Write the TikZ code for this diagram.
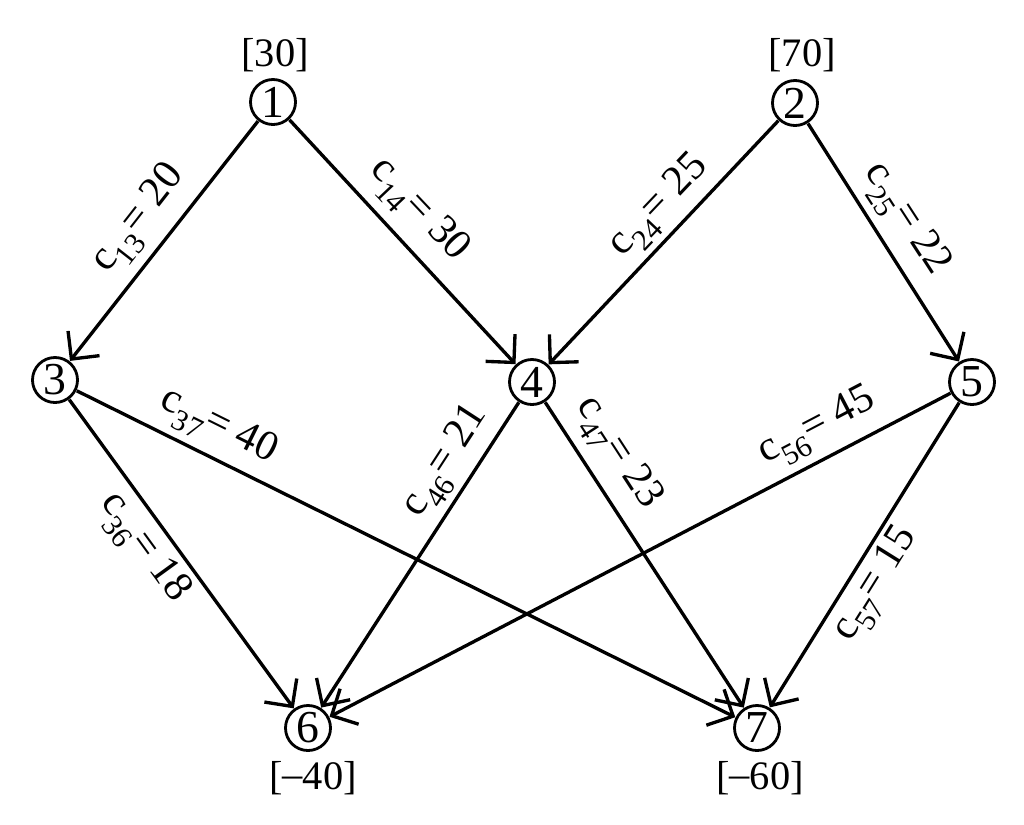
\documentclass[tikz,border=0pt]{standalone}
\usepackage{fontspec}
\setmainfont{Liberation Serif}
\usetikzlibrary{arrows.meta}
\newcommand{\costsub}[1]{\raisebox{-0.3em}{\fontsize{8.5}{9}\selectfont #1}}
\begin{document}
\begin{tikzpicture}[x=0.01cm,y=-0.01cm,
  vertex/.style={circle, draw, line width=0.8pt, minimum size=0.45cm, inner sep=0pt, outer sep=0.5pt, font=\fontsize{13}{14}\selectfont},
  arc/.style={line width=0.95pt, -{Straight Barb[length=0.2cm,width=0.4cm]}},
  cost/.style={inner sep=0pt, font=\fontsize{12}{13}\selectfont},
  supply/.style={inner sep=0pt, font=\fontsize{11.5}{12}\selectfont}]
\useasboundingbox (0,0) rectangle (1024,824);
% vertices
\node[vertex] (n1) at (273,102) {1};
\node[vertex] (n2) at (795,103) {2};
\node[vertex] (n3) at (55,380) {3};
\node[vertex] (n4) at (532,382) {4};
\node[vertex] (n5) at (972,382) {5};
\node[vertex] (n6) at (308,728) {6};
\node[vertex] (n7) at (757,728) {7};
% supplies
\node[supply] (s1) at (275,55) {[30]};
\node[supply] (s2) at (802,55) {[70]};
\node[supply] (s6) at (313,778) {[\raisebox{0.05em}{–}40]};
\node[supply] (s7) at (760,778) {[\raisebox{0.05em}{–}60]};
% arcs
\draw[arc] (n1) -- (n3);
\draw[arc] (n1) -- (n4);
\draw[arc] (n2) -- (n4);
\draw[arc] (n2) -- (n5);
\draw[arc] (n3) -- (n6);
\draw[arc] (n3) -- (n7);
\draw[arc] (n4) -- (n6);
\draw[arc] (n4) -- (n7);
\draw[arc] (n5) -- (n6);
\draw[arc] (n5) -- (n7);
% costs
\node[cost, rotate=52] (c13) at (140,220) {c\costsub{13}= 20};
\node[cost, rotate=-46.6] (c14) at (418,211) {c\costsub{14}= 30};
\node[cost, rotate=46.5] (c24) at (660,207) {c\costsub{24}= 25};
\node[cost, rotate=-57] (c25) at (905,220) {c\costsub{25}= 22};
\node[cost, rotate=-26.4] (c37) at (218,428) {c\costsub{37}= 40};
\node[cost, rotate=-54] (c36) at (143,549) {c\costsub{36}= 18};
\node[cost, rotate=57] (c46) at (447,462) {c\costsub{46}= 21};
\node[cost, rotate=-57] (c47) at (617,454) {c\costsub{47}= 23};
\node[cost, rotate=27.6] (c56) at (818,428) {c\costsub{56}= 45};
\node[cost, rotate=58] (c57) at (877,585) {c\costsub{57}= 15};
\end{tikzpicture}
\end{document}
